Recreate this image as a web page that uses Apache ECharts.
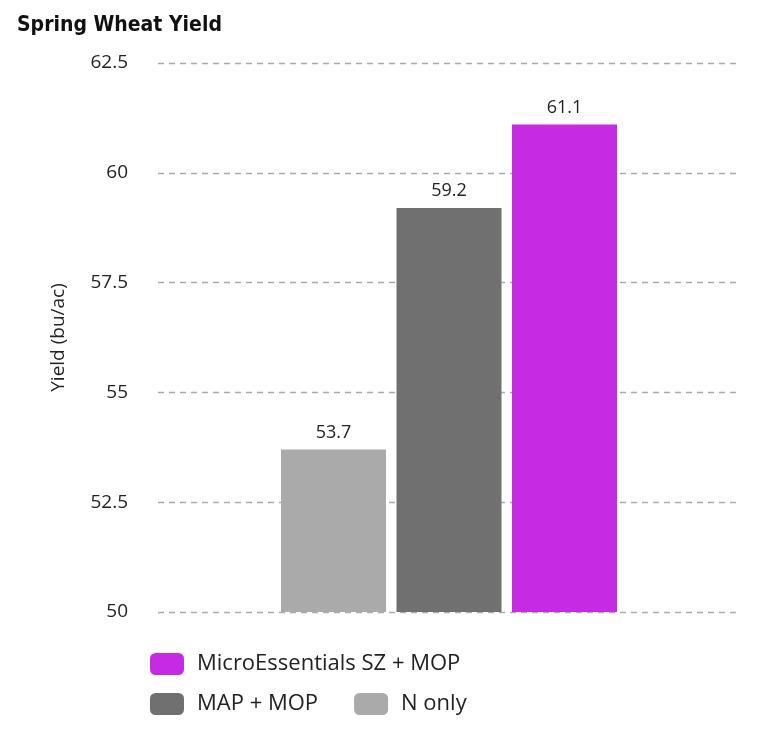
<!DOCTYPE html>
<html><head><meta charset="utf-8">
<script src="https://cdn.jsdelivr.net/npm/echarts@6/dist/echarts.min.js"></script>
<style>html,body{margin:0;background:#fff}#chart{width:768px;height:743px}</style>
</head><body><div id="chart"></div>
<script>
var seriesNames = ["N only", "MAP + MOP", "MicroEssentials SZ + MOP"];
var seriesValues = [53.7, 59.2, 61.1];
var seriesColors = ["#aaaaaa", "#707070", "#c62be3"];
var categories = ["Spring Wheat"];

var chart = echarts.init(document.getElementById("chart"));
var font = "'Open Sans', 'Noto Sans', sans-serif";

var series = seriesNames.map(function (name, i) {
    return {
        name: name,
        type: "bar",
        barWidth: 105,
        barGap: "10%",
        data: [seriesValues[i]],
        itemStyle: { color: seriesColors[i] },
        label: {
            show: true, position: "top", distance: 8,
            color: "#222", fontSize: 18, fontFamily: font, fontWeight: 500
        }
    };
});

chart.setOption({
    animation: false,
    title: {
        text: "Spring Wheat Yield", left: 12, top: 10,
        textStyle: { fontFamily: "'Liberation Sans Narrow', 'DejaVu Sans Condensed', sans-serif", fontSize: 21, fontWeight: "bold", color: "#111" }
    },
    legend: [{
        data: [seriesNames[2]], left: 145, top: 648, itemWidth: 34, itemHeight: 22, itemGap: 40,
        textStyle: { fontSize: 22, fontFamily: font, color: "#222", padding: [0, 0, 0, 8] }
    }, {
        data: [seriesNames[1], seriesNames[0]], left: 145, top: 688, itemWidth: 34, itemHeight: 22, itemGap: 36,
        textStyle: { fontSize: 22, fontFamily: font, color: "#222", padding: [0, 0, 0, 8] }
    }],
    grid: { left: 158, right: 28, top: 63, bottom: 131 },
    xAxis: {
        type: "category", data: categories,
        axisLine: { show: false }, axisTick: { show: false }, axisLabel: { show: false }
    },
    yAxis: {
        type: "value", min: 50, max: 62.5, interval: 2.5,
        name: "Yield (bu/ac)", nameLocation: "middle", nameGap: 90,
        nameTextStyle: { fontSize: 19, fontFamily: font, color: "#222", fontWeight: 500 },
        axisLabel: { fontSize: 19, fontFamily: font, color: "#222", margin: 30 },
        splitLine: { lineStyle: { type: [6, 5], color: "#aaa", width: 1.3 } }
    },
    series: series
});
</script></body></html>
